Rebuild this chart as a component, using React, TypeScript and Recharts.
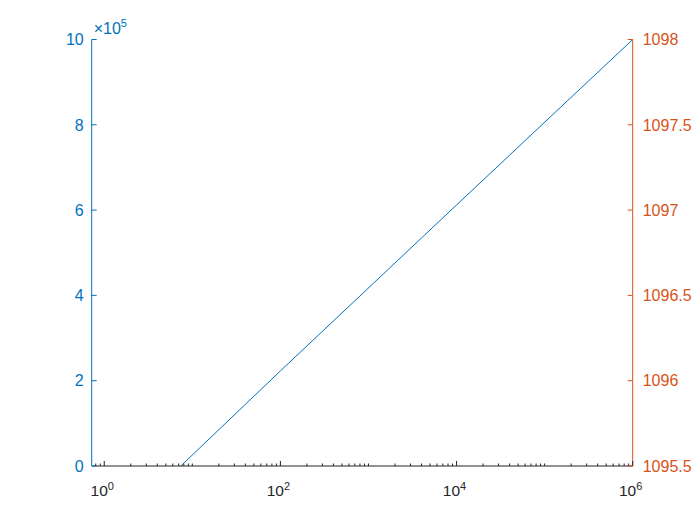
import React from 'react';
import { LineChart, Line, XAxis, YAxis } from 'recharts';

const xValues = [7.4, 100, 10000, 1000000];
const yValues = [0, 223000, 612000, 1000000];
const xMajorTicks = [1, 100, 10000, 1000000];
const leftTicks = [0, 200000, 400000, 600000, 800000, 1000000];
const rightTicks = [1095.5, 1096, 1096.5, 1097, 1097.5, 1098];

const BLUE = '#0072BD';
const ORANGE = '#D95319';
const DARK = '#262626';
const FONT = '"Liberation Sans", Arial, Helvetica, sans-serif';

const data = xValues.map((x, i) => ({ x, y: yValues[i] }));

const xTicks: number[] = [];
[0.8, 0.9].forEach((m) => xTicks.push(m));
for (let k = 0; k <= 6; k++) {
  const base = Math.pow(10, k);
  if (k === 6) {
    xTicks.push(base);
  } else {
    for (let m = 1; m <= 9; m++) xTicks.push(Number((m * base).toPrecision(6)));
  }
}

const isMajor = (v: number) => xMajorTicks.some((t) => Math.abs(t - v) / t < 1e-9);

const BottomTick = (props: any) => {
  const { x, y, payload } = props;
  const v = payload.value;
  const major = isMajor(v);
  const exp = Math.round(Math.log10(v));
  return (
    <g>
      <line x1={x} x2={x} y1={y} y2={y - (major ? 5 : 2.5)} stroke={DARK} strokeWidth={1} />
      {major && (
        <text x={x - 2} y={y + 30} textAnchor="middle" fill={DARK} style={{ fontSize: 15.5, fontFamily: FONT }}>
          <tspan>10</tspan>
          <tspan dy={-6.5} style={{ fontSize: 11 }}>{exp}</tspan>
        </text>
      )}
    </g>
  );
};

const TopTick = (props: any) => {
  const { x, y, payload } = props;
  const major = isMajor(payload.value);
  return <line x1={x} x2={x} y1={y} y2={y + (major ? 5 : 2.5)} stroke={DARK} strokeWidth={1} />;
};

const LeftTick = (props: any) => {
  const { x, y, payload } = props;
  return (
    <g>
      <line x1={x} x2={x + 5} y1={y} y2={y} stroke={BLUE} strokeWidth={1} />
      <text x={x - 8} y={y} dy="0.36em" textAnchor="end" fill={BLUE} style={{ fontSize: 16, fontFamily: FONT }}>
        {String(Math.round(payload.value / 100000))}
      </text>
    </g>
  );
};

const RightTick = (props: any) => {
  const { x, y, payload } = props;
  return (
    <g>
      <line x1={x} x2={x - 5} y1={y} y2={y} stroke={ORANGE} strokeWidth={1} />
      <text x={x + 10} y={y} dy="0.36em" textAnchor="start" fill={ORANGE} style={{ fontSize: 16, fontFamily: FONT }}>
        {String(payload.value)}
      </text>
    </g>
  );
};

export default function App() {
  return (
    <div style={{ position: 'absolute', left: 0, top: 0, width: 700, height: 525, background: '#fff' }}>
      <LineChart
        width={700}
        height={525}
        data={data}
        margin={{ top: 39.5, right: 0, bottom: 0, left: 0 }}
      >
        <XAxis
          xAxisId="bottom"
          dataKey="x"
          type="number"
          scale="log"
          domain={[0.72, 1000000]}
          allowDataOverflow
          ticks={xTicks}
          interval={0}
          height={59}
          tickSize={0}
          tickMargin={0}
          tickLine={false}
          axisLine={{ stroke: DARK, strokeWidth: 1 }}
          tick={<BottomTick />}
        />
        <XAxis
          xAxisId="top"
          orientation="top"
          dataKey="x"
          type="number"
          scale="log"
          domain={[0.72, 1000000]}
          allowDataOverflow
          ticks={xTicks}
          interval={0}
          height={0}
          tickSize={0}
          tickMargin={0}
          tickLine={false}
          axisLine={{ stroke: DARK, strokeWidth: 1 }}
          tick={<TopTick />}
        />
        <YAxis
          yAxisId="left"
          orientation="left"
          type="number"
          domain={[0, 1000000]}
          ticks={leftTicks}
          interval={0}
          width={91.7}
          tickSize={0}
          tickMargin={0}
          tickLine={false}
          axisLine={{ stroke: BLUE, strokeWidth: 1 }}
          tick={<LeftTick />}
        />
        <YAxis
          yAxisId="right"
          orientation="right"
          type="number"
          domain={[1095.5, 1098]}
          ticks={rightTicks}
          interval={0}
          width={67.3}
          tickSize={0}
          tickMargin={0}
          tickLine={false}
          axisLine={{ stroke: ORANGE, strokeWidth: 1 }}
          tick={<RightTick />}
          allowDataOverflow
        />
        <Line
          xAxisId="bottom"
          yAxisId="left"
          dataKey="y"
          type="linear"
          stroke={BLUE}
          strokeWidth={1}
          dot={false}
          activeDot={false}
          isAnimationActive={false}
        />
        <Line
          xAxisId="bottom"
          yAxisId="right"
          dataKey="r"
          stroke={ORANGE}
          dot={false}
          activeDot={false}
          isAnimationActive={false}
        />
      </LineChart>
      <svg width={700} height={525} style={{ position: 'absolute', left: 0, top: 0, pointerEvents: 'none' }}>
        <text x={93.7} y={34} fill={BLUE} style={{ fontSize: 16, fontFamily: FONT }}>
          <tspan>×10</tspan>
          <tspan dy={-7} style={{ fontSize: 11 }}>5</tspan>
        </text>
      </svg>
    </div>
  );
}
